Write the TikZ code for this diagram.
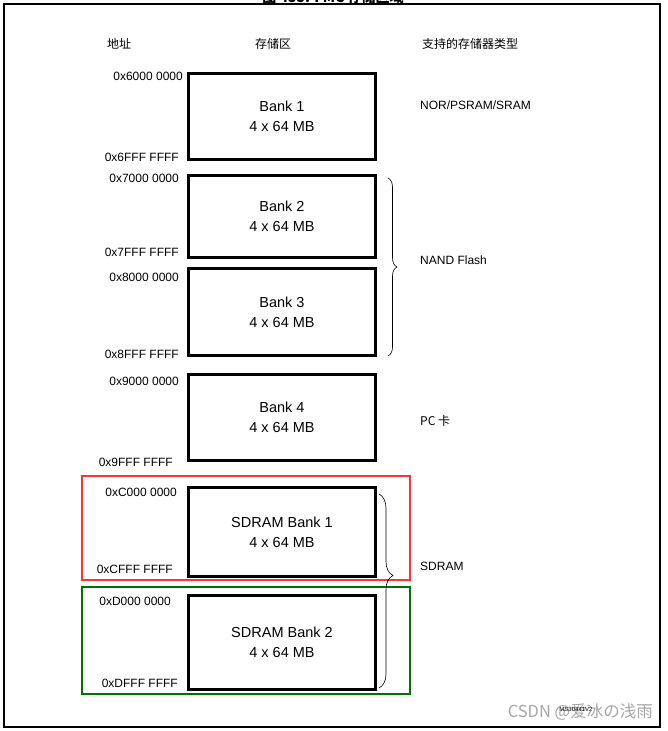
\documentclass[tikz,border=0pt]{standalone}
\usepackage{fontspec}
\setmainfont{Liberation Sans}
\newfontfamily\cjk{Noto Sans CJK SC}
\usetikzlibrary{decorations.pathreplacing}
\begin{document}
\begin{tikzpicture}[x=1pt,y=-1pt,
  bank/.style={draw,line width=2.6pt,minimum width=187pt,inner sep=0,align=center,font=\fontsize{14.5}{20}\selectfont},
  addr/.style={anchor=east,font=\fontsize{12}{13}\selectfont,inner sep=0},
  lab/.style={anchor=west,font=\fontsize{12}{13}\selectfont,inner sep=0},
  hdr/.style={font=\cjk\fontsize{12}{13}\selectfont,inner sep=0},
  br/.style={decorate,decoration={brace,amplitude=9pt},line width=0.6pt}]
\useasboundingbox (0,0) rectangle (668,731);
\fill[white] (0,0) rectangle (668,731);
\begin{scope}
\clip (0,0) rectangle (668,731);
\node[hdr,font=\cjk\bfseries\fontsize{14}{16}\selectfont] (title) at (333,-3) {图 455. FMC 存储区域};
\end{scope}
\draw[line width=1.2pt] (4,727) -- (4,4) -- (660,4) -- (660,727) -- cycle;
\node[hdr] (h1) at (119,44) {地址};
\node[hdr] (h2) at (273,44) {存储区};
\node[hdr] (h3) at (470,44) {支持的存储器类型};
\node[bank,minimum height=86pt] (b1) at (282,116.5) {Bank 1\\4 x 64 MB};
\node[bank,minimum height=82pt] (b2) at (282,216.5) {Bank 2\\4 x 64 MB};
\node[bank,minimum height=87pt] (b3) at (282,312) {Bank 3\\4 x 64 MB};
\node[bank,minimum height=86pt] (b4) at (282,417.5) {Bank 4\\4 x 64 MB};
\node[bank,minimum height=89pt] (b5) at (282,532) {SDRAM Bank 1\\4 x 64 MB};
\node[bank,minimum height=94pt] (b6) at (282,642.5) {SDRAM Bank 2\\4 x 64 MB};
\draw[red!80!white,line width=1.6pt] (82,476) rectangle (410,580);
\draw[green!45!black,line width=1.6pt] (82,587) rectangle (410,694);
\node[addr] (a1) at (183,76) {0x6000 0000};
\node[addr] (a2) at (179,157) {0x6FFF FFFF};
\node[addr] (a3) at (179,178) {0x7000 0000};
\node[addr] (a4) at (179,252) {0x7FFF FFFF};
\node[addr] (a5) at (179,277) {0x8000 0000};
\node[addr] (a6) at (179,354) {0x8FFF FFFF};
\node[addr] (a7) at (179,381) {0x9000 0000};
\node[addr] (a8) at (173,462) {0x9FFF FFFF};
\node[addr] (a9) at (177,492) {0xC000 0000};
\node[addr] (a10) at (173,569) {0xCFFF FFFF};
\node[addr] (a11) at (171,601) {0xD000 0000};
\node[addr] (a12) at (178,683) {0xDFFF FFFF};
\node[lab] (l1) at (420,105) {NOR/PSRAM/SRAM};
\node[lab] (l2) at (420,260) {NAND Flash};
\node[lab,font=\cjk\fontsize{12}{13}\selectfont] (l3) at (420,421) {PC 卡};
\node[lab] (l4) at (420,566) {SDRAM};
\coordinate (n1) at (388,178); \coordinate (n2) at (388,356);
\draw[br] (n1) -- (n2);
\coordinate (s1) at (379,494); \coordinate (s2) at (379,688);
\draw[br,decoration={brace,amplitude=14pt,aspect=0.42}] (s1) -- (s2);
\node[font=\cjk\fontsize{16.5}{18}\selectfont,text=gray!70,inner sep=0,anchor=east] (wm) at (653,712) {CSDN\ @爱冰の浅雨};
\node[font=\fontsize{6}{7}\selectfont,inner sep=0] (ms) at (576,709) {MS30441V2};
\end{tikzpicture}
\end{document}
